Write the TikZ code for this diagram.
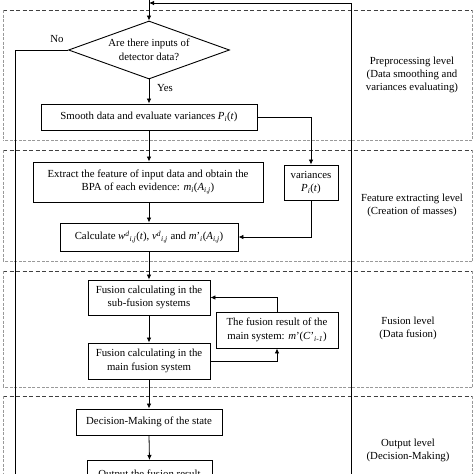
\documentclass[tikz,border=0pt]{standalone}
\usepackage{fontspec}
\setmainfont{Liberation Serif}
\usetikzlibrary{shapes.geometric,arrows.meta}
\newcommand{\vi}[1]{\textit{#1}}
\newcommand{\sbs}[1]{\textsubscript{\textit{#1}}}
\newcommand{\sps}[1]{\textsuperscript{\textit{#1}}}
\begin{document}
\begin{tikzpicture}[x=1pt,y=-1pt,
  font=\fontsize{10.8}{13.5}\selectfont,
  box/.style={draw,line width=0.9pt,align=center,inner sep=1pt},
  conn/.style={line width=0.8pt},
  arr/.style={conn,-{Latex[length=5pt,width=4.5pt]}},
  lvtop/.style={draw=black!75,line width=0.9pt,dash pattern=on 4pt off 2.5pt},
  lvside/.style={draw=black!40,line width=0.9pt,dash pattern=on 3pt off 1.5pt},
  lvlabel/.style={align=center,font=\fontsize{10.8}{13}\selectfont}]
\useasboundingbox (0,0) rectangle (474,474);
\clip (0,0) rectangle (474,474);
\fill[white] (0,0) rectangle (474,474);

% level boxes
\foreach \t/\b in {10/140,150/261,271/387,396/490}{
  \draw[lvtop] (3,\t) -- (472,\t);
  \draw[lvside] (472,\b) -- (3,\b);
  \draw[lvside] (3,\t) -- (3,\b);
  \draw[lvside] (472,\t) -- (472,\b);
}

% nodes
\node[draw,line width=0.9pt,diamond,aspect=2.8,inner sep=1pt,minimum width=161pt,minimum height=58pt,align=center] (dia) at (149,50) {Are there inputs of\\detector data?};
\node[box,minimum width=216pt,minimum height=26pt] (smooth) at (149,117) {Smooth data and evaluate variances \vi{P}\sbs{i}(\vi{t})};
\node[box,minimum width=230pt,minimum height=40pt] (extract) at (148,182) {Extract the feature of input data and obtain the\\BPA of each evidence: \vi{m}\sbs{i}(\vi{A}\sbs{i,j})};
\node[box,minimum width=54pt,minimum height=35pt] (var) at (311,182.5) {variances\\\vi{P}\sbs{i}(\vi{t})};
\node[box,minimum width=178pt,minimum height=28pt] (calc) at (149,237) {Calculate \vi{w}\sps{d}\sbs{i,j}(\vi{t}), \vi{v}\sps{d}\sbs{i,j} and \vi{m}'\sbs{i}(\vi{A}\sbs{i,j})};
\node[box,minimum width=122pt,minimum height=35pt] (sub) at (149,297.5) {Fusion calculating in the\\sub-fusion systems};
\node[box,minimum width=122pt,minimum height=36pt] (main) at (149,361) {Fusion calculating in the\\main fusion system};
\node[box,minimum width=122pt,minimum height=36pt] (res) at (277,330) {The fusion result of the\\main system: \vi{m}'(\vi{C}'\sbs{i-1})};
\node[box,minimum width=146pt,minimum height=26pt] (dec) at (149,422) {Decision-Making of the state};
\node[box,minimum width=125pt,minimum height=28pt,anchor=north] (out) at (149.5,460) {Output the fusion result};

\node (no) at (57,39) {No};
\node (yes) at (165,88) {Yes};

\node[lvlabel] (l1) at (412,75) {Preprocessing level\\(Data smoothing and\\variances evaluating)};
\node[lvlabel] (l2) at (412,205) {Feature extracting level\\(Creation of masses)};
\node[lvlabel] (l3) at (408,328) {Fusion level\\(Data fusion)};
\node[lvlabel] (l4) at (408,450) {Output level\\(Decision-Making)};

% coordinates
\coordinate (topin) at (149,-5);
\coordinate (join) at (149,3);
\coordinate (loopb) at (351,490);
\coordinate (nob) at (15,490);

% connectors
\draw[arr] (topin) -- (dia.north);
\draw[arr] (loopb) |- (join);
\draw[conn] (dia.west) -| (nob);
\draw[arr] (dia.south) -- (smooth.north);
\draw[arr] (smooth.east) -| (var.north);
\draw[arr] (smooth.south) -- (smooth.south |- extract.north);
\draw[arr] (extract.south -| calc.north) -- (calc.north);
\draw[arr] (var.south) |- (calc.east);
\draw[arr] (calc.south) -- (sub.north);
\draw[arr] (sub.south) -- (main.north);
\draw[arr] (main.east) -| (res.south);
\draw[arr] (res.north) |- (sub.east);
\draw[arr] (main.south) -- (dec.north);
\draw[arr] (dec.south) -- (out.north);
\end{tikzpicture}
\end{document}
